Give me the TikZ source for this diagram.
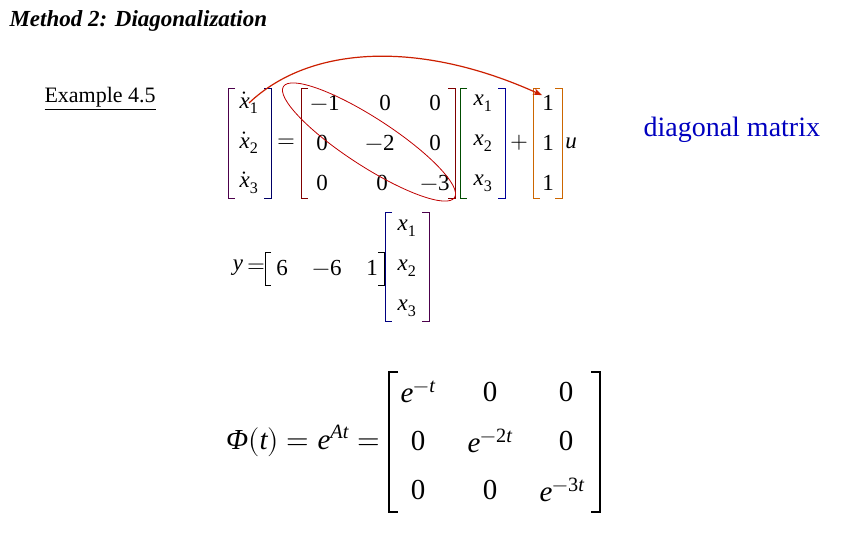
\documentclass[tikz,border=0pt]{standalone}
\usetikzlibrary{arrows.meta}
\usepackage{fontspec}
\usepackage{unicode-math}
\setmainfont{Liberation Serif}
\setmathfont{Latin Modern Math}
\setmathfont[range=it]{Liberation Serif Italic}
\setmathfont[range=up]{Liberation Serif}
\begin{document}
\begin{tikzpicture}[x=1pt,y=-1pt,
  e/.style={font=\fontsize{23}{26}\selectfont,inner sep=0pt},
  E/.style={font=\fontsize{29}{32}\selectfont,inner sep=0pt},
  br/.style={line width=1pt}]
\useasboundingbox (0,0) rectangle (853,555);
\newcommand\lbr[4][black]{\draw[br,#1] (#2+7,#3)--(#2,#3)--(#2,#4)--(#2+7,#4);}
\newcommand\rbr[4][black]{\draw[br,#1] (#2-7,#3)--(#2,#3)--(#2,#4)--(#2-7,#4);}
\node[anchor=west,font=\fontsize{23}{26}\selectfont\bfseries\itshape] (title) at (6,21) {Method 2: Diagonalization};
\node[anchor=west,font=\fontsize{22}{26}\selectfont] (ex) at (41,99) {\underline{Example 4.5}};
\node[anchor=west,font=\fontsize{28}{32}\selectfont,text=blue!75!black] (dm) at (640,130) {diagonal matrix};
% eq1
\lbr[violet!60!black]{228}{88}{198}\rbr[blue!40!black]{271}{88}{198}
\foreach \i/\y in {1/103,2/143,3/183}{\node[e] (xd\i) at (249,\y) {$\dot{x}_\i$};}
\node[e] (eq1) at (286,143) {$=$};
\lbr[red!50!black]{301}{88}{198}\rbr[red!50!black]{455}{88}{198}
\node[e] (a11) at (325,103) {$-1$};\node[e] (a12) at (385,103) {$0$};\node[e] (a13) at (435,103) {$0$};
\node[e] (a21) at (322,143) {$0$};\node[e] (a22) at (380,143) {$-2$};\node[e] (a23) at (435,143) {$0$};
\node[e] (a31) at (322,183) {$0$};\node[e] (a32) at (382,183) {$0$};\node[e] (a33) at (435,183) {$-3$};
\lbr[green!30!black]{460}{88}{198}\rbr[blue!60!black]{505}{88}{198}
\foreach \i/\y in {1/103,2/143,3/183}{\node[e] (x\i) at (483,\y) {$x_\i$};}
\node[e] (plus) at (519,143) {$+$};
\lbr[orange!80!black]{533}{88}{198}\rbr[orange!80!black]{562}{88}{198}
\foreach \i/\y in {1/103,2/143,3/183}{\node[e] (b\i) at (548,\y) {$1$};}
\node[e] (u) at (571,143) {$u$};
\draw[red!75!black,line width=0.8pt,rotate around={-33:(369,142)}] (369,142) ellipse (102 and 24);
\draw[red!70!orange!80!black,line width=1.2pt,-{Stealth[length=9pt]}] (xd1.center) .. controls (310,45) and (420,40) .. (b1.north west);
% eq2
\node[e] (y) at (238,268) {$y$};\node[e] (eq2) at (256,268) {$=$};
\draw[br] (271,252)--(265,252)--(265,285)--(271,285);
\draw[br] (378,252)--(384,252)--(384,285)--(378,285);
\node[e] (c1) at (282,268) {$6$};\node[e] (c2) at (327,268) {$-6$};\node[e] (c3) at (372,268) {$1$};
\lbr[blue!50!black]{385}{212}{321}\rbr[violet!60!black]{429}{212}{321}
\foreach \i/\y in {1/228,2/268,3/308}{\node[e] (z\i) at (407,\y) {$x_\i$};}
% eq3
\node[E,anchor=west] (phi) at (226,441) {\textit{Φ}$(t)=e^{At}=$};
\draw[line width=1.3pt] (398,372)--(389,372)--(389,512)--(398,512);
\draw[line width=1.3pt] (591,372)--(600,372)--(600,512)--(591,512);
\node[E] (m11) at (418,392) {$e^{-t}$};\node[E] (m12) at (490,392) {$0$};\node[E] (m13) at (566,392) {$0$};
\node[E] (m21) at (418,441) {$0$};\node[E] (m22) at (490,441) {$e^{-2t}$};\node[E] (m23) at (566,441) {$0$};
\node[E] (m31) at (418,490) {$0$};\node[E] (m32) at (490,490) {$0$};\node[E] (m33) at (562,490) {$e^{-3t}$};
\end{tikzpicture}
\end{document}
